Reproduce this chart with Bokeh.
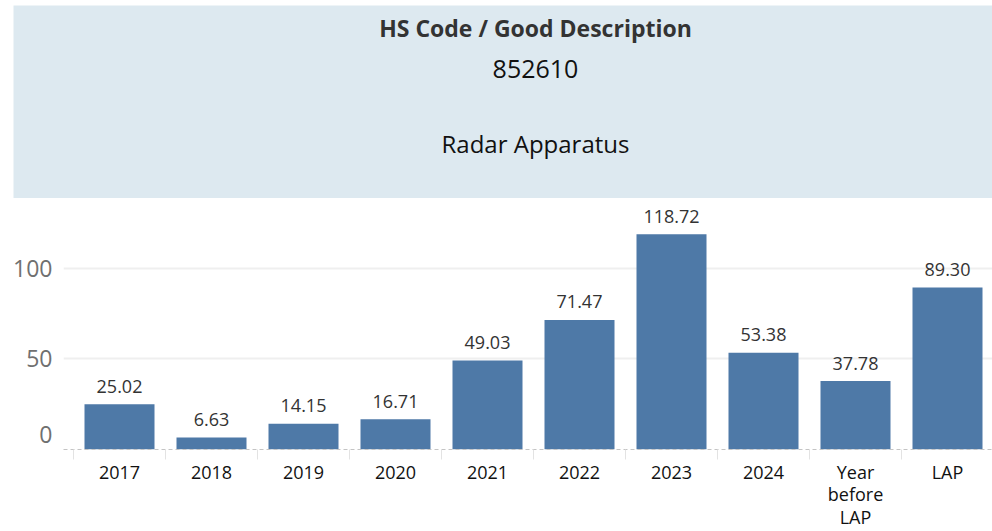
from bokeh.plotting import figure
from bokeh.layouts import column
from bokeh.models import Range1d, FixedTicker, ColumnDataSource, LinearAxis
from bokeh.core.properties import value
from bokeh.embed import file_html
from bokeh.resources import INLINE

# ---- data ----
HEADER_TITLE = "HS Code / Good Description"
HS_CODE = "852610"
DESCRIPTION = "Radar Apparatus"

categories = ["2017", "2018", "2019", "2020", "2021", "2022", "2023", "2024",
              "Year\nbefore\nLAP", "LAP"]
values = [25.02, 6.63, 14.15, 16.71, 49.03, 71.47, 118.72, 53.38, 37.78, 89.30]
y_ticks = [0, 50, 100]

FONT = "Open Sans"
BAR_COLOR = "#4e79a7"
HEADER_BG = "#dde9f0"

W = 992

# ---- header panel ----
hdr = figure(width=W, height=198, output_backend="svg", toolbar_location=None,
             x_range=Range1d(0, 979), y_range=Range1d(193, 0),
             min_border_left=13, min_border_right=0, min_border_top=5, min_border_bottom=0)
hdr.frame_align = False
hdr.axis.visible = False
hdr.grid.visible = False
hdr.outline_line_color = None
hdr.background_fill_color = HEADER_BG
hdr.border_fill_color = "white"
hdr.text(x=[522], y=[22], text=[HEADER_TITLE], text_font=value(FONT),
         text_font_style="bold", text_font_size="23px", text_color="#333333",
         text_align="center", text_baseline="middle")
hdr.text(x=[522], y=[63], text=[HS_CODE], text_font=value(FONT),
         text_font_size="25px", text_color="#111111",
         text_align="center", text_baseline="middle")
hdr.text(x=[522], y=[138], text=[DESCRIPTION], text_font=value(FONT),
         text_font_size="24px", text_color="#111111",
         text_align="center", text_baseline="middle")

# ---- bar chart ----
n = len(categories)
xs = list(range(n))
src = ColumnDataSource(dict(x=xs, top=values, label=[f"{v:.2f}" for v in values]))

px_per_cat = 92.0
frame_w = W - 63
x_start = -0.5 - 10.0 / px_per_cat
x_end = x_start + frame_w / px_per_cat

frame_h = 245.0
y_end = 134.6
px_per_unit = frame_h / y_end

p = figure(width=W, height=333, output_backend="svg", toolbar_location=None,
           x_range=Range1d(x_start, x_end), y_range=Range1d(0, y_end),
           x_axis_location=None, y_axis_location=None,
           min_border_left=63, min_border_right=0, min_border_top=7, min_border_bottom=81)
p.frame_align = False
p.outline_line_color = None
p.xgrid.visible = False
p.ygrid.ticker = FixedTicker(ticks=[t for t in y_ticks if t != 0])
p.ygrid.grid_line_color = "#efefef"
p.ygrid.grid_line_width = 2

p.vbar(x="x", top="top", width=70.0 / px_per_cat, source=src,
       fill_color=BAR_COLOR, line_color=None)
p.text(x="x", y="top", text="label", source=src, text_font=value(FONT),
       text_font_size="18px", text_color="#333333", text_align="center",
       text_baseline="alphabetic", y_offset=-18)

xaxis = LinearAxis(ticker=FixedTicker(ticks=xs, minor_ticks=[i - 0.5 for i in range(n + 1)]),
                   major_label_overrides={i: c for i, c in enumerate(categories)})
xaxis.axis_line_color = "#c4c4c4"
xaxis.axis_line_dash = "4 3"
xaxis.major_tick_line_color = None
xaxis.major_tick_out = 0
xaxis.major_tick_in = 0
xaxis.minor_tick_line_color = "#e3e3e3"
xaxis.minor_tick_out = 10
xaxis.minor_tick_in = 0
xaxis.minor_tick_line_width = 1
xaxis.major_label_text_font = FONT
xaxis.major_label_text_font_size = "18px"
xaxis.major_label_text_color = "#111111"
xaxis.major_label_text_line_height = 0.94
xaxis.major_label_standoff = 0
p.add_layout(xaxis, "below")

# the bottom tick label sits lifted ~15px above the baseline, as in the reference
zero_lift = 15.0 / px_per_unit
label_pos = [y_ticks[0] + zero_lift] + y_ticks[1:]
yaxis = LinearAxis(ticker=FixedTicker(ticks=label_pos),
                   major_label_overrides={label_pos[0]: str(y_ticks[0])})
yaxis.axis_line_color = None
yaxis.major_tick_line_color = None
yaxis.minor_tick_line_color = None
yaxis.major_label_text_font = FONT
yaxis.major_label_text_font_size = "23px"
yaxis.major_label_text_color = "#707070"
yaxis.major_label_standoff = 5
p.add_layout(yaxis, "left")

layout = column(hdr, p, spacing=0)
open("out.html", "w").write(file_html(layout, INLINE))
